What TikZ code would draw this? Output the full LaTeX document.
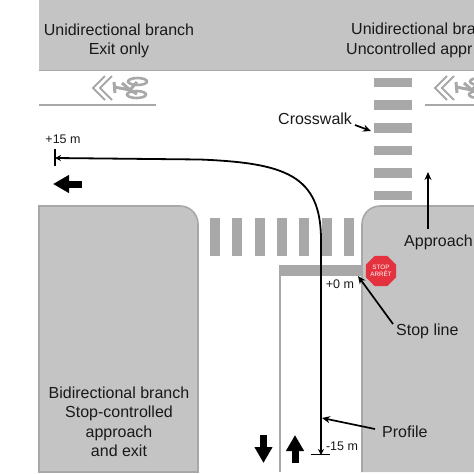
\documentclass[tikz,border=0pt]{standalone}
\usepackage{fontspec}
\setmainfont{Liberation Sans}
\usetikzlibrary{arrows.meta,shapes.geometric}
\definecolor{roadgray}{HTML}{C4C4C4}
\definecolor{edgegray}{HTML}{A8A8A8}
\definecolor{stopred}{HTML}{E5323F}
\newcommand{\bikemark}[2]{%
  \begin{scope}[shift={(#1,#2)}, draw=edgegray, line width=2pt]
    \draw (12,-12) -- (0,0) -- (12,12);
    \draw (19,-12) -- (7,0) -- (19,12);
    \draw[line width=2.6pt] (44.5,-6.5) ellipse (9.5 and 3.5);
    \draw[line width=2.6pt] (43.5,6.5) ellipse (9.5 and 3.5);
    \draw[line width=3pt] (21,-6) -- (22,5) (21,-1) -- (37,2) -- (44,-6) (37,2) -- (44,6) (29,-5) -- (37,2);
  \end{scope}}
\tikzset{
  label/.style={font=\fontsize{16}{19.5}\selectfont, align=center, inner sep=0pt, text=black!90},
  small/.style={font=\fontsize{12.5}{14}\selectfont, inner sep=0pt, text=black!90},
  callout/.style={-{Stealth[length=8pt,width=7pt]}, line width=1.7pt},
  tick/.style={line width=1.8pt},
  bigarrow/.style={-{Triangle[length=16pt,width=17pt]}, line width=7pt},
}
\begin{document}
\begin{tikzpicture}[x=1pt, y=-1pt]
  \useasboundingbox (0,0) rectangle (474,474);

  % branches
  \fill[roadgray] (39,0) rectangle (474,71);
  \draw[edgegray, line width=1.6pt] (39,70.5) -- (474,70.5);
  \filldraw[fill=roadgray, draw=edgegray, line width=1.6pt] (39,472) -- (198,472) -- (198,224)
    arc[start angle=0, end angle=90, x radius=18, y radius=-18] -- (39,206) -- cycle;
  \fill[roadgray] (362,472) -- (362,224)
    arc[start angle=180, end angle=90, x radius=18, y radius=-18] -- (474,206) -- (474,472) -- cycle;
  \draw[edgegray, line width=1.6pt] (362,472) -- (362,224)
    arc[start angle=180, end angle=90, x radius=18, y radius=-18] -- (474,206);

  % passages pietons
  \foreach \y in {77.5,100,123,145.5,168,190.5}
    \fill[edgegray] (374,\y) rectangle (412,\y+9.7);
  \foreach \x in {210,232,255,277,299,322,344}
    \fill[edgegray] (\x,217.5) rectangle (\x+10,256);

  % bike lanes
  \draw[edgegray, line width=2pt] (39,104.5) -- (156,104.5);
  \draw[edgegray, line width=2pt] (425,104.5) -- (474,104.5);
  \bikemark{93}{88}
  \begin{scope}
    \clip (420,70) rectangle (474,110);
    \bikemark{435}{88}
  \end{scope}

  % stop line and lane edge
  \draw[edgegray, line width=2.2pt] (280,265) -- (280,472);
  \fill[edgegray] (279,265) rectangle (362,276);
  \node[regular polygon, regular polygon sides=8, fill=stopred, minimum size=25pt, inner sep=0pt,
    text=white, align=center, font=\fontsize{6.3}{7.5}\selectfont] (stopsign) at (381,271) {STOP\\ARRÊT};

  % profile
  \coordinate (profilestart) at (55,158);
  \coordinate (profileend) at (321,455);
  \draw[line width=1.8pt, {Stealth[length=6pt,width=6pt]}-{Stealth[length=6pt,width=6pt]}] (profilestart)
    -- (200,159.5) .. controls (285,163) and (321,175) .. (321,240) -- (profileend);
  \draw[tick] (55,149) -- (55,166);
  \draw[tick] (311,454.5) -- (330,454.5);

  % sens de circulation
  \coordinate (exitstart) at (82,184);
  \coordinate (exitend) at (53,184);
  \coordinate (downstart) at (263.5,435);
  \coordinate (downend) at (263.5,463);
  \coordinate (upstart) at (295,463);
  \coordinate (upend) at (295,435);
  \draw[bigarrow] (exitstart) -- (exitend);
  \draw[bigarrow] (downstart) -- (downend);
  \draw[bigarrow] (upstart) -- (upend);

  % labels
  \node[label] (exitbranch) at (119,41) {Unidirectional branch\\Exit only};
  \node[label, align=left, anchor=west] (approachbranch) at (346,40.5) {\hspace*{5pt}Unidirectional bra\\Uncontrolled appr};
  \node[label] (stopbranch) at (119,422) {Bidirectional branch\\Stop-controlled\\approach\\and exit};
  \node[small] (plus15) at (63,139) {+15 m};
  \node[small] (plus0) at (340,284) {+0 m};
  \node[small] (minus15) at (342,446) {-15 m};
  \node[label, anchor=west] (crosswalk) at (278,119) {Crosswalk};
  \node[label, anchor=west] (approach) at (404,242) {Approach};
  \node[label, anchor=west] (stopline) at (396,331) {Stop line};
  \node[label, anchor=west] (profile) at (382,432) {Profile};

  % callouts
  \coordinate (crosswalkfrom) at (355,125);
  \coordinate (crosswalkto) at (371,131);
  \coordinate (approachfrom) at (428,229);
  \coordinate (approachto) at (428,172);
  \coordinate (stoplinefrom) at (393,324);
  \coordinate (stoplineto) at (358,276);
  \coordinate (profilefrom) at (375,429);
  \coordinate (profileto) at (322,418);
  \draw[callout] (crosswalkfrom) -- (crosswalkto);
  \draw[callout] (approachfrom) -- (approachto);
  \draw[callout] (stoplinefrom) -- (stoplineto);
  \draw[callout] (profilefrom) -- (profileto);
\end{tikzpicture}
\end{document}
